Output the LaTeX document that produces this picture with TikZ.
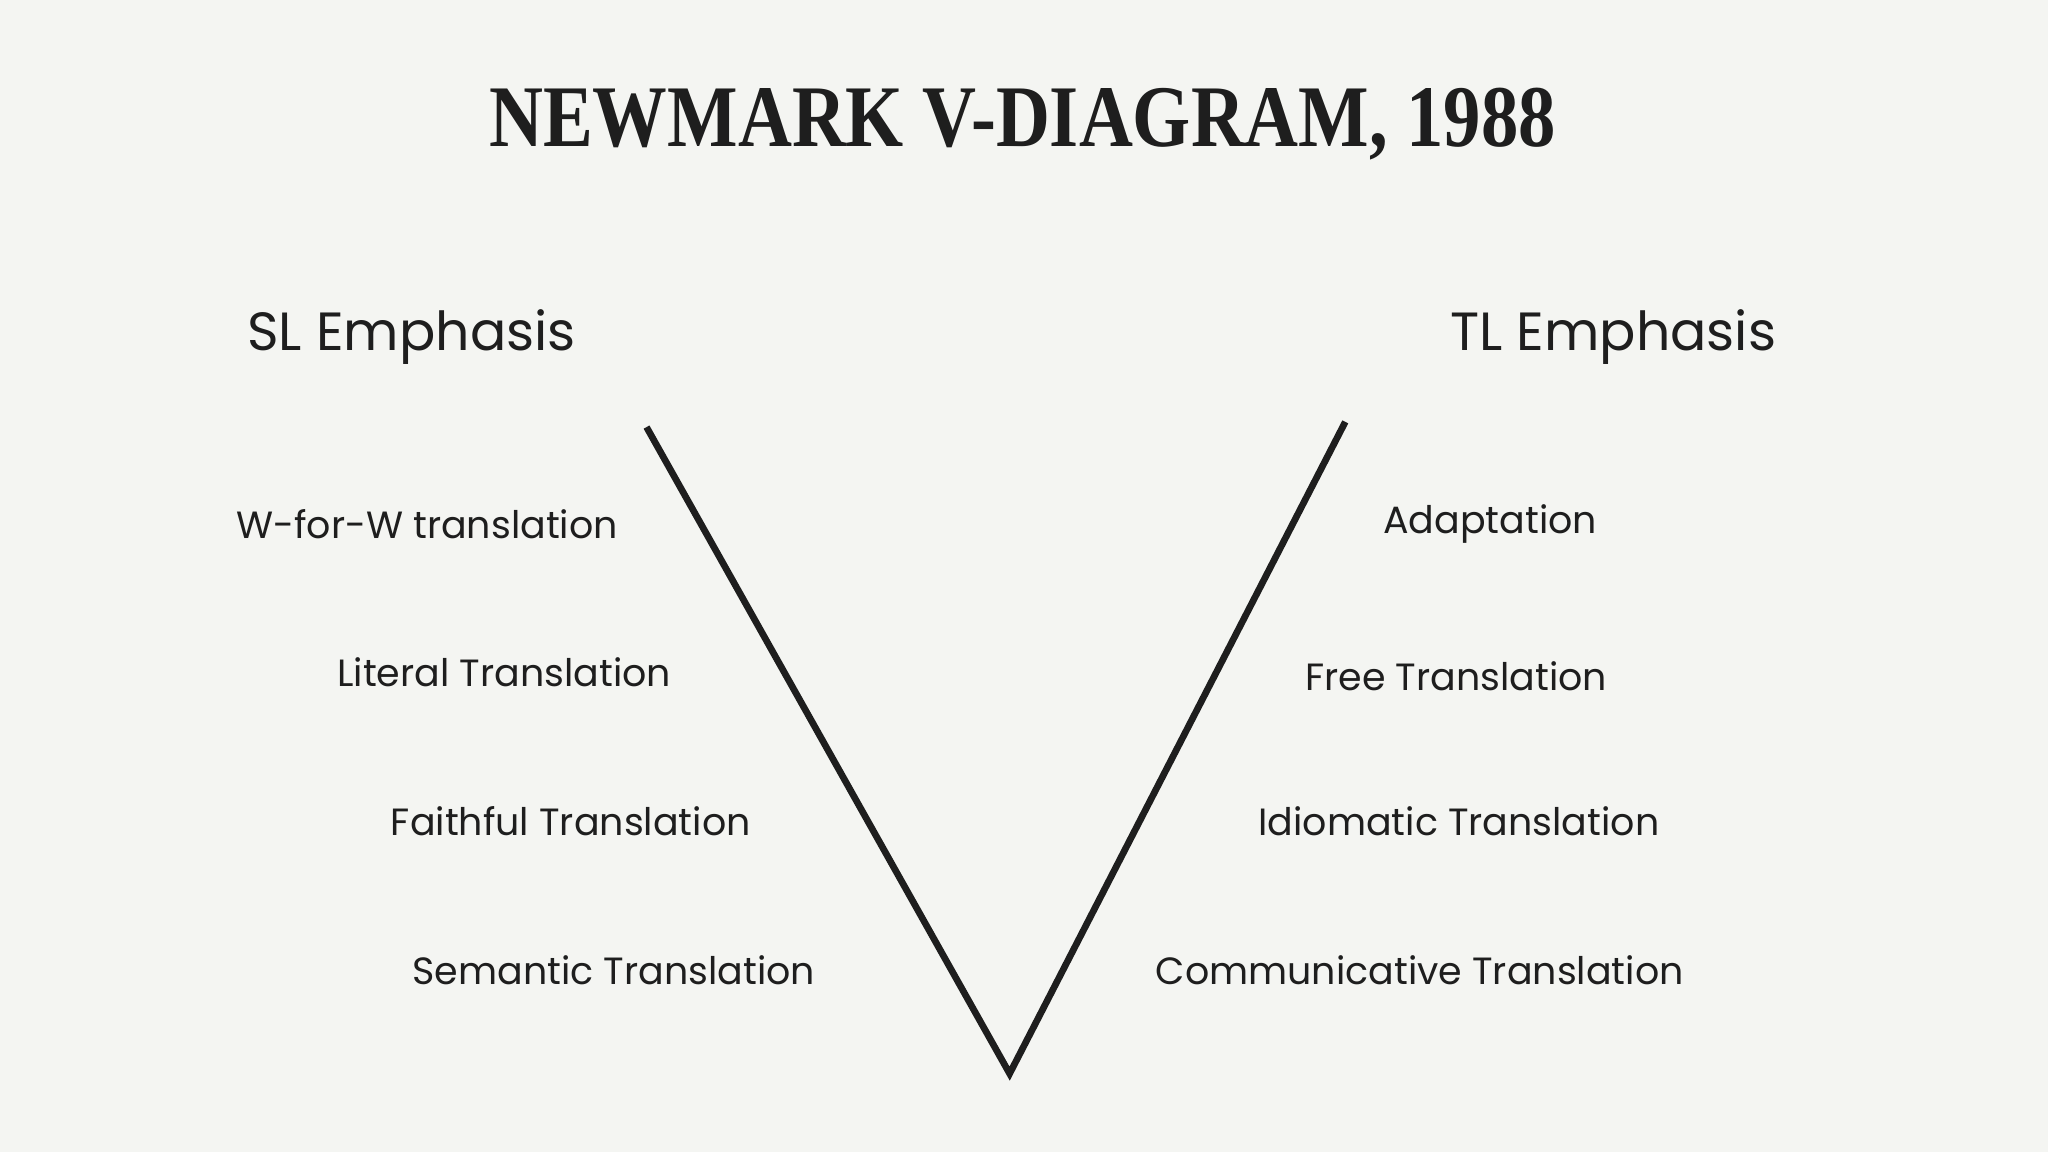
\documentclass[tikz,border=0pt]{standalone}
\usepackage{fontspec}
\setmainfont{Poppins}
\newfontfamily\titlefont{Liberation Serif}
\definecolor{bg}{HTML}{F4F5F2}
\definecolor{ink}{HTML}{1E1E1E}
\begin{document}
\begin{tikzpicture}[x=0.013061cm,y=-0.013061cm,
  item/.style={text=ink,font=\fontsize{10.8}{13}\selectfont,inner sep=0pt},
  head/.style={text=ink,font=\fontsize{15.3}{18}\selectfont,inner sep=0pt},
  vline/.style={draw=ink,line width=1.9pt}]
\fill[bg] (0,0) rectangle (1568,882);
\useasboundingbox (0,0) rectangle (1568,882);
\node[text=ink,font=\titlefont\bfseries\fontsize{25}{28}\selectfont,inner sep=0pt] (title) at (783,95) {\scalebox{0.85}[1]{NEWMARK V-DIAGRAM, 1988}};
\node[head] (sl) at (315,258) {SL Emphasis};
\node[head] (tl) at (1235,258) {TL Emphasis};
\coordinate (a) at (495,327);
\coordinate (b) at (773,822);
\coordinate (c) at (1030,323);
\draw[vline] (a) -- (b) -- (c);
\node[item] (l1) at (327,401) {W-for-W translation};
\node[item] (l2) at (386,515) {Literal Translation};
\node[item] (l3) at (437,629) {Faithful Translation};
\node[item] (l4) at (470,743) {Semantic Translation};
\node[item] (r1) at (1141,401) {Adaptation};
\node[item] (r2) at (1115,518) {Free Translation};
\node[item] (r3) at (1117,629) {Idiomatic Translation};
\node[item] (r4) at (1087,743) {Communicative Translation};
\end{tikzpicture}
\end{document}
